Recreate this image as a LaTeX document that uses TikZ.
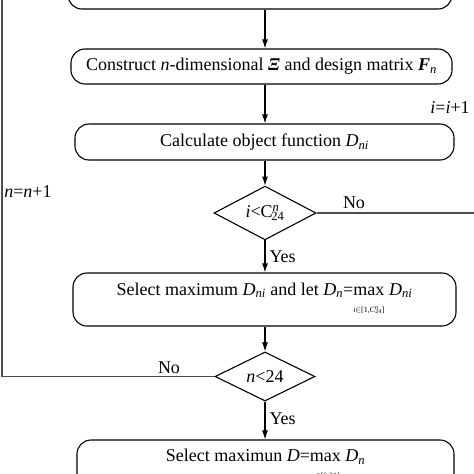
\documentclass[tikz,border=0pt]{standalone}
\usepackage{fontspec}
\setmainfont{Liberation Serif}
\usetikzlibrary{shapes.geometric,arrows.meta}
\newcommand{\maxlim}[1]{\begin{tabular}[t]{@{}c@{}}max\\[-3pt]{\fontsize{8}{8}\selectfont #1}\end{tabular}}
\newcommand{\sub}[1]{\textsubscript{\textit{#1}}}
\tikzset{
  procbox/.style={draw, line width=1.1pt, rounded corners=14pt, inner sep=0pt, font=\fontsize{18}{20}\selectfont},
  decbox/.style={draw, line width=1.1pt, diamond, inner sep=0pt, font=\fontsize{18}{20}\selectfont},
  flow/.style={line width=1.1pt, -{Latex[length=9pt,width=6pt]}},
  loopline/.style={line width=1.6pt, draw=black!70},
  lbl/.style={font=\fontsize{18}{20}\selectfont, inner sep=0pt}
}
\begin{document}
\begin{tikzpicture}[x=1pt,y=-1pt]
\useasboundingbox (0,0) rectangle (474,474);
\clip (0,0) rectangle (474,474);
\fill[white] (0,0) rectangle (474,474);
\node[procbox, minimum width=384pt, minimum height=44pt] (b1) at (260,-13) {};
\node[procbox, minimum width=381pt, minimum height=35pt] (b2) at (261.5,66.5)
  {Construct \textit{n}-dimensional \textbf{\textit{Ξ}} and design matrix \textbf{\textit{F}}\sub{n}};
\node[procbox, minimum width=379pt, minimum height=36pt] (b3) at (264.5,142)
  {Calculate object function \textit{D}\sub{ni}};
\node[decbox, minimum width=102pt, minimum height=44pt] (d1) at (265,213)
  {\textit{i}<C\textsuperscript{\textit{n}}\hspace{-0.45em}\textsubscript{24}};
\node[procbox, minimum width=383pt, minimum height=53pt] (b4) at (264.5,299.5)
  {\raisebox{3pt}{Select maximum \textit{D}\sub{ni} and let \textit{D}\sub{n}=\maxlim{\textit{i}$\in$[1,C\textsuperscript{\textit{n}}\hspace{-0.4em}\textsubscript{24}]} \textit{D}\sub{ni}}};
\node[decbox, minimum width=100pt, minimum height=39pt] (d2) at (265,376.5)
  {\textit{n}<24};
\node[procbox, minimum width=377pt, minimum height=52pt] (b5) at (265.5,466)
  {\raisebox{7pt}{Select maximun \textit{D}=\maxlim{\textit{n}$\in$[6,21]} \textit{D}\sub{n}}};

\draw[flow] (b1.south -| d1.north) -- (b2.north -| d1.north);
\draw[flow] (b2.south -| d1.north) -- (b3.north -| d1.north);
\draw[flow] (b3.south -| d1.north) -- (d1.north);
\draw[flow] (d1.south) -- (b4.north -| d1.south) node[lbl, pos=0.5, right=4pt] {Yes};
\draw[flow] (b4.south -| d1.north) -- (d2.north);
\draw[flow] (d2.south) -- (b5.north -| d2.south) node[lbl, pos=0.45, right=4pt] {Yes};

\coordinate (rend) at (480,213);
\draw[loopline] (d1.east) -- (rend);
\node[lbl] (no1) at (354,203) {No};

\coordinate (lcorner) at (2,376.5);
\coordinate (ltop) at (2,-10);
\draw[loopline] (d2.west) -- (lcorner) -- (ltop);
\node[lbl] (no2) at (169,368) {No};

\node[lbl] (iinc) at (450,108) {\textit{i}=\textit{i}+1};
\node[lbl] (ninc) at (28,192) {\textit{n}=\textit{n}+1};
\end{tikzpicture}
\end{document}
